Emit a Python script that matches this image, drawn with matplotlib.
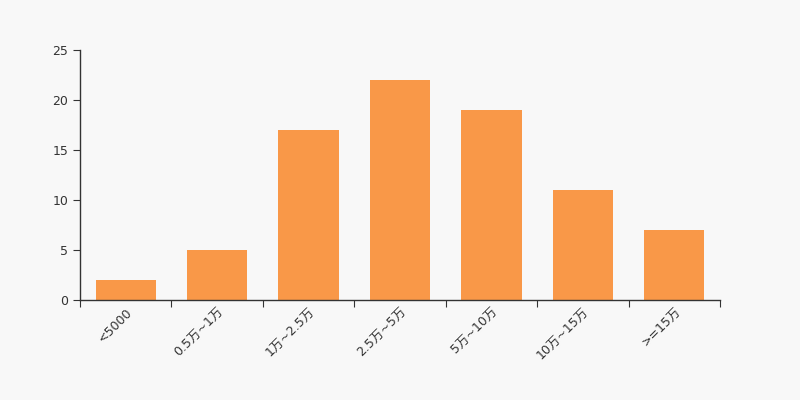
import matplotlib
matplotlib.use("Agg")
import matplotlib.pyplot as plt
import numpy as np

plt.rcParams['font.family'] = ['DejaVu Sans', 'Noto Sans CJK SC']

categories = ["<5000", "0.5万~1万", "1万~2.5万", "2.5万~5万", "5万~10万", "10万~15万", ">=15万"]
values = [2, 5, 17, 22, 19, 11, 7]
yticks = [0, 5, 10, 15, 20, 25]

bg = "#f8f8f8"
bar_color = "#f99848"
text_color = "#333333"

fig = plt.figure(figsize=(8, 4), dpi=100, facecolor=bg)
ax = fig.add_axes([0.1, 0.25, 0.8, 0.625], facecolor=bg)

x = np.arange(len(categories))
ax.bar(x, values, width=0.66, color=bar_color, zorder=2)

ax.set_xlim(-0.5, len(categories) - 0.5)
ax.set_ylim(0, 25)
ax.set_yticks(yticks)
ax.set_yticklabels([str(v) for v in yticks], fontsize=9, color=text_color)

ax.set_xticks(np.arange(-0.5, len(categories), 1.0))
ax.set_xticklabels([])
ax.set_xticks(x, minor=True)
ax.set_xticklabels(categories, minor=True, rotation=45, ha='right',
                   rotation_mode='anchor', fontsize=9, color=text_color)
ax.tick_params(axis='x', which='minor', length=0, pad=4)
ax.tick_params(axis='x', which='major', length=5, color=text_color, direction='out')
ax.tick_params(axis='y', length=5, color=text_color, direction='out')

for s in ['top', 'right']:
    ax.spines[s].set_visible(False)
for s in ['left', 'bottom']:
    ax.spines[s].set_color(text_color)
    ax.spines[s].set_linewidth(1)

fig.savefig("out.png", dpi=100, facecolor=bg)
